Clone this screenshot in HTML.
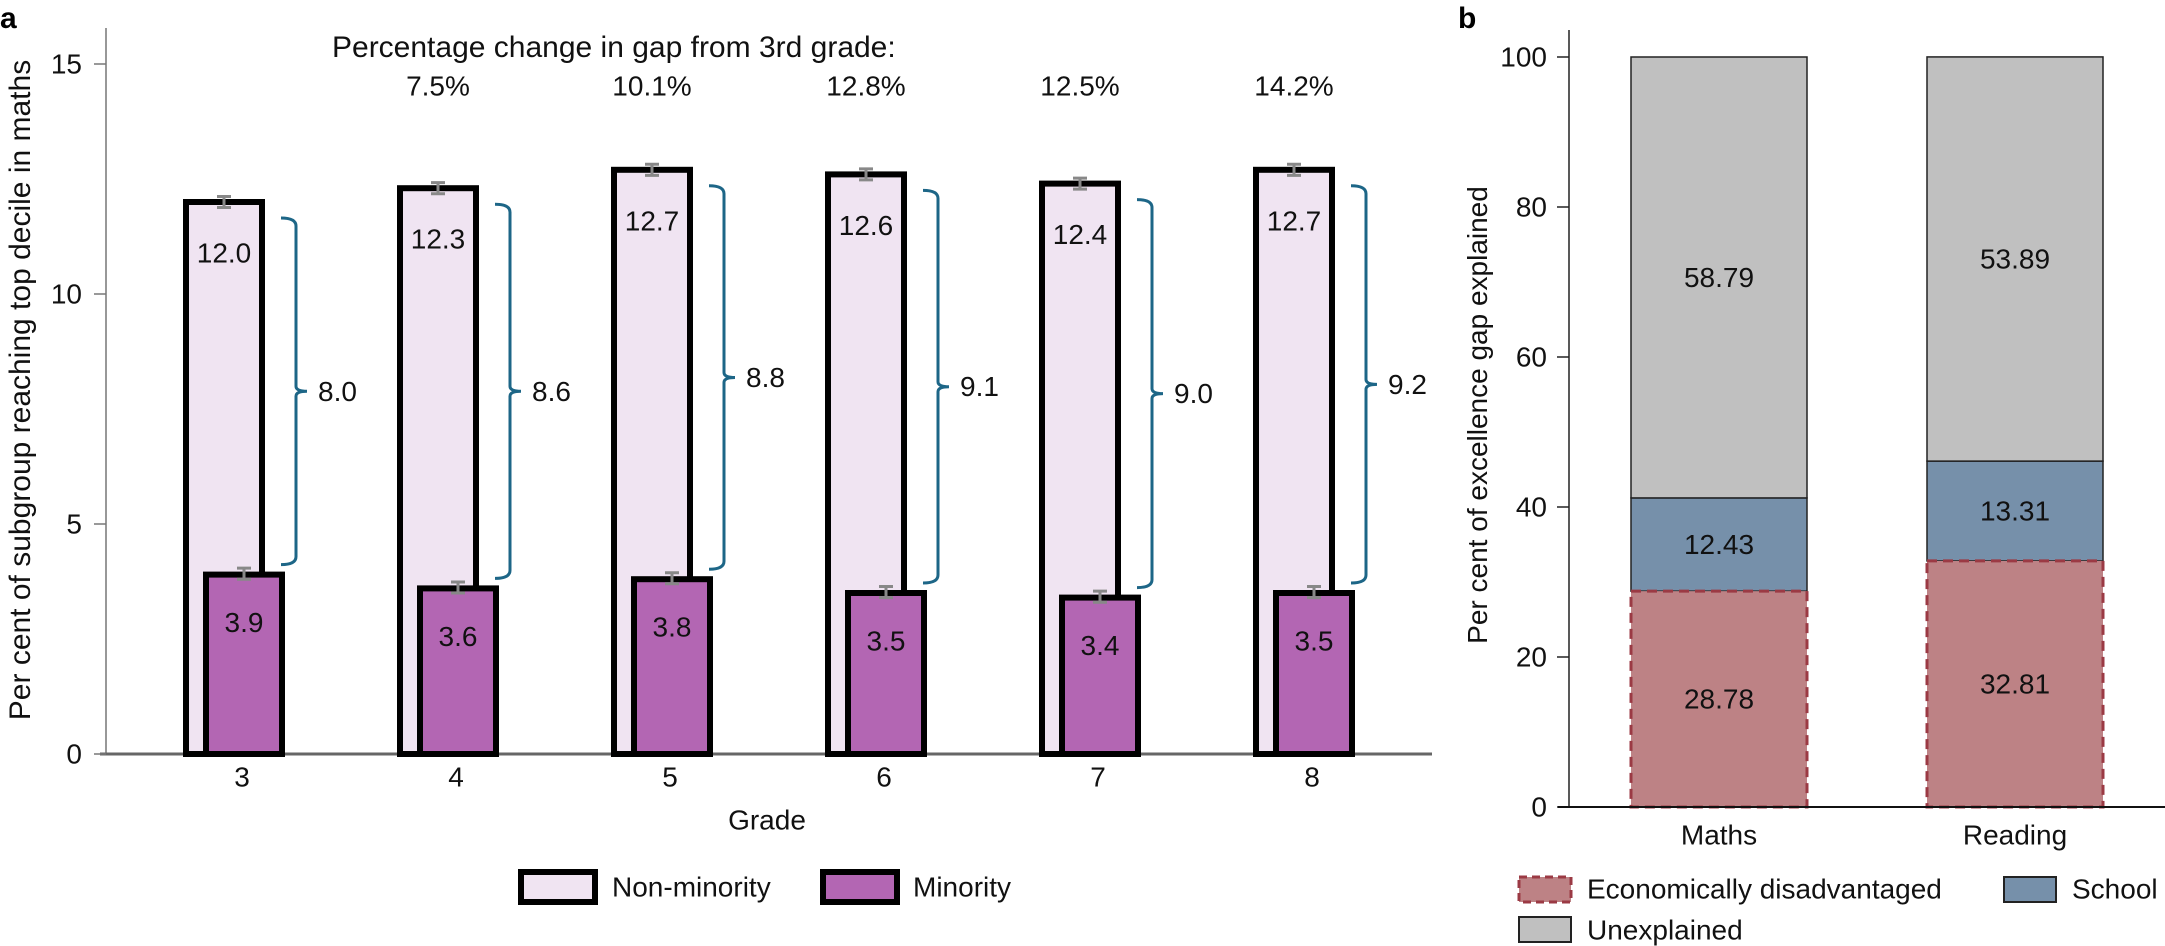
<!DOCTYPE html>
<html><head><meta charset="utf-8"><style>
html,body{margin:0;padding:0;background:#fff;}
svg{display:block;font-family:"Liberation Sans",Arial,sans-serif;}
</style></head><body>
<svg id="fig" width="2165" height="946" viewBox="0 0 2165 946" xmlns="http://www.w3.org/2000/svg">
<text x="0" y="28" font-size="30" font-weight="bold">a</text>
<text x="1458" y="28" font-size="30" font-weight="bold">b</text>
<g id="pa"></g>
<g id="pb"></g>
</svg>
<script>
const grades = ["3","4","5","6","7","8"];
const nonMinority = [12.0,12.3,12.7,12.6,12.4,12.7];
const minority = [3.9,3.6,3.8,3.5,3.4,3.5];
const gaps = [8.0,8.6,8.8,9.1,9.0,9.2];
const pctChange = ["","7.5%","10.1%","12.8%","12.5%","14.2%"];
const yTicksA = [0,5,10,15];

const subjects = ["Maths","Reading"];
const econ = [28.78,32.81];
const school = [12.43,13.31];
const unexplained = [58.79,53.89];
const yTicksB = [0,20,40,60,80,100];

const NS="http://www.w3.org/2000/svg";
function mk(parent,tag,attrs,txt){const e=document.createElementNS(NS,tag);for(const k in attrs)e.setAttribute(k,attrs[k]);if(txt!==undefined)e.textContent=txt;parent.appendChild(e);return e;}
function ctext(parent,x,y,s,size,anchor){return mk(parent,'text',{x:x,y:y,'font-size':size,'text-anchor':anchor||'middle','dominant-baseline':'central',fill:'#111'},s);}

// Panel A
const pa=document.getElementById('pa');
const ya=v=>754-v*46;
const xa=i=>242+i*214;
let l=mk(pa,'line',{x1:106,y1:28,x2:106,y2:754,stroke:'#777','stroke-width':1.5});

l=mk(pa,'line',{x1:100,y1:754,x2:1432,y2:754,stroke:'#666','stroke-width':3});

yTicksA.forEach(v=>{
  mk(pa,'line',{x1:94,y1:ya(v),x2:106,y2:ya(v),stroke:'#777','stroke-width':1.5});
  const t=ctext(pa,82,ya(v),String(v),28,'end');
  
});
const yt=mk(pa,'text',{transform:'translate(30,390) rotate(-90)','font-size':30,'text-anchor':'middle',fill:'#111'},'Per cent of subgroup reaching top decile in maths');

const ht=mk(pa,'text',{x:332,y:57,'font-size':30,fill:'#111'},'Percentage change in gap from 3rd grade:');

grades.forEach((g,i)=>{
  const c=xa(i);
  const nl=c-56, ml=c-36, w=76;
  const r1=mk(pa,'rect',{x:nl,y:ya(nonMinority[i]),width:w,height:ya(0)-ya(nonMinority[i]),fill:'#f0e4f2',stroke:'#000','stroke-width':6});
  
  const ec=nl+w/2;
  mk(pa,'path',{d:`M${ec} ${ya(nonMinority[i]+0.12)}V${ya(nonMinority[i]-0.12)}M${ec-7} ${ya(nonMinority[i]+0.12)}H${ec+7}M${ec-7} ${ya(nonMinority[i]-0.12)}H${ec+7}`,stroke:'#888','stroke-width':3,fill:'none'});
  const r2=mk(pa,'rect',{x:ml,y:ya(minority[i]),width:w,height:ya(0)-ya(minority[i]),fill:'#b366b3',stroke:'#000','stroke-width':6});
  
  const mc=ml+w/2;
  mk(pa,'path',{d:`M${mc} ${ya(minority[i]+0.14)}V${ya(minority[i]-0.1)}M${mc-7} ${ya(minority[i]+0.14)}H${mc+7}M${mc-7} ${ya(minority[i]-0.1)}H${mc+7}`,stroke:'#888','stroke-width':3,fill:'none'});
  let t=ctext(pa,ec,ya(nonMinority[i])+51,nonMinority[i].toFixed(1),28);
  
  t=ctext(pa,mc,ya(minority[i])+48,minority[i].toFixed(1),28);
  
  const x0=c+39, x1=c+54;
  const top=ya(nonMinority[i])+16, bot=ya(minority[i])-10, mid=(top+bot)/2;
  const br=mk(pa,'path',{d:`M${x0} ${top}Q${x1} ${top} ${x1} ${top+8}L${x1} ${mid-5}Q${x1} ${mid} ${x1+11} ${mid}Q${x1} ${mid} ${x1} ${mid+5}L${x1} ${bot-8}Q${x1} ${bot} ${x0} ${bot}`,stroke:'#1d6687','stroke-width':3,fill:'none'});
  
  t=ctext(pa,x1+22,mid,gaps[i].toFixed(1),28,'start');
  
  if(pctChange[i]){t=ctext(pa,ec,86,pctChange[i],28);}
  t=ctext(pa,c,777,g,28);
  
});
let gt=ctext(pa,767,820,'Grade',28);

let lg=mk(pa,'rect',{x:521,y:872,width:74,height:30,fill:'#f0e4f2',stroke:'#000','stroke-width':6});

lg=ctext(pa,612,887,'Non-minority',28,'start');

lg=mk(pa,'rect',{x:823,y:872,width:74,height:30,fill:'#b366b3',stroke:'#000','stroke-width':6});

lg=ctext(pa,913,887,'Minority',28,'start');


// Panel B
const pb=document.getElementById('pb');
const yb=v=>807-v*7.5;
const xb=i=>1719+i*296;
l=mk(pb,'line',{x1:1569,y1:30,x2:1569,y2:807,stroke:'#222','stroke-width':1.5});

yTicksB.forEach(v=>{
  mk(pb,'line',{x1:1557,y1:yb(v),x2:1569,y2:yb(v),stroke:'#222','stroke-width':1.5});
  const t=ctext(pb,1547,yb(v),String(v),28,'end');
  
});
const ytb=mk(pb,'text',{transform:'translate(1487,415) rotate(-90)','font-size':28,'text-anchor':'middle',fill:'#111'},'Per cent of excellence gap explained');

subjects.forEach((s,i)=>{
  const c=xb(i), w=176, x=c-w/2;
  const e=econ[i], sc=school[i], u=unexplained[i];
  let r=mk(pb,'rect',{x:x,y:yb(e+sc),width:w,height:yb(e)-yb(e+sc),fill:'#7690aa',stroke:'#222','stroke-width':1.5});
  
  r=mk(pb,'rect',{x:x,y:yb(e+sc+u),width:w,height:yb(e+sc)-yb(e+sc+u),fill:'#c0c0c0',stroke:'#222','stroke-width':1.5});
  
  r=mk(pb,'rect',{x:x,y:yb(e),width:w,height:yb(0)-yb(e),fill:'#bd8285',stroke:'#9b3a44','stroke-width':3,'stroke-dasharray':'10,6'});
  
  let t=ctext(pb,c,(yb(0)+yb(e))/2,e.toFixed(2),28);
  
  t=ctext(pb,c,(yb(e)+yb(e+sc))/2,sc.toFixed(2),28);
  
  t=ctext(pb,c,(yb(e+sc)+yb(e+sc+u))/2,u.toFixed(2),28);
  
  t=ctext(pb,c,835,s,28);
  
});
l=mk(pb,'line',{x1:1558,y1:807,x2:2165,y2:807,stroke:'#111','stroke-width':2});

lg=mk(pb,'rect',{x:1519,y:877,width:52,height:25,fill:'#bd8285',stroke:'#9b3a44','stroke-width':3,'stroke-dasharray':'8,5'});

lg=ctext(pb,1587,889,'Economically disadvantaged',28,'start');

lg=mk(pb,'rect',{x:2004,y:877,width:52,height:25,fill:'#7690aa',stroke:'#222','stroke-width':2});

lg=ctext(pb,2072,889,'School',28,'start');

lg=mk(pb,'rect',{x:1519,y:917,width:52,height:25,fill:'#c0c0c0',stroke:'#222','stroke-width':2});

lg=ctext(pb,1587,930,'Unexplained',28,'start');

</script>
</body></html>
